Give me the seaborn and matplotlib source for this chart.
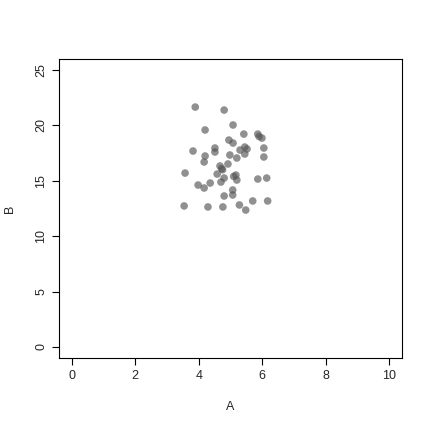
import matplotlib
matplotlib.use("Agg")
import matplotlib.pyplot as plt
import seaborn as sns
import pandas as pd

A = [3.89, 4.80, 4.20, 5.08, 4.51, 4.51, 5.08, 5.42, 4.95, 5.86, 5.99, 6.05, 6.05,
     5.45, 5.30, 5.20, 4.98, 5.45, 5.52, 3.82, 4.20, 4.17, 4.67, 4.92, 4.58, 4.80,
     5.17, 4.70, 4.36, 4.17, 5.20, 5.86, 6.14, 3.57, 3.98, 3.54, 4.29, 4.76, 5.48,
     5.70, 6.17, 5.07, 5.28, 4.80, 5.07, 4.75, 5.90, 5.10, 4.72]
B = [21.66, 21.39, 19.59, 20.04, 17.96, 17.60, 18.41, 19.22, 18.68, 19.22, 18.86, 17.96, 17.15,
     18.05, 17.78, 17.06, 17.33, 17.42, 17.87, 17.69, 17.24, 16.70, 16.34, 16.52, 15.61, 15.25,
     15.52, 14.89, 14.80, 14.35, 15.07, 15.16, 15.25, 15.70, 14.62, 12.73, 12.64, 12.64, 12.36,
     13.18, 13.18, 13.72, 12.82, 13.63, 14.17, 16.00, 19.00, 15.40, 16.10]

df = pd.DataFrame({"A": A, "B": B})

sns.set_style("white")
plt.rcParams["font.family"] = ["Liberation Sans", "DejaVu Sans"]

fig = plt.figure(figsize=(4.32, 4.32), dpi=100)
ax = fig.add_axes([59 / 432, 1 - 358 / 432, (402 - 59) / 432, (358 - 59) / 432])
sns.scatterplot(data=df, x="A", y="B", ax=ax, color="#555555", alpha=0.65,
                s=30, edgecolor="none")
ax.set_xlim(-0.4, 10.4)
ax.set_ylim(-1.0, 26.0)
ax.set_xticks([0, 2, 4, 6, 8, 10])
ax.set_yticks([0, 5, 10, 15, 20, 25])
for s in ax.spines.values():
    s.set_color("black")
    s.set_linewidth(0.8)
ax.tick_params(axis="both", direction="out", length=5, width=0.8, labelsize=9,
               bottom=True, left=True, color="black")
plt.setp(ax.get_yticklabels(), rotation=90, va="center")
ax.set_xlabel("A", fontsize=9, labelpad=14)
ax.set_ylabel("B", fontsize=9, labelpad=14)
fig.savefig("out.png", dpi=100, facecolor="white")
